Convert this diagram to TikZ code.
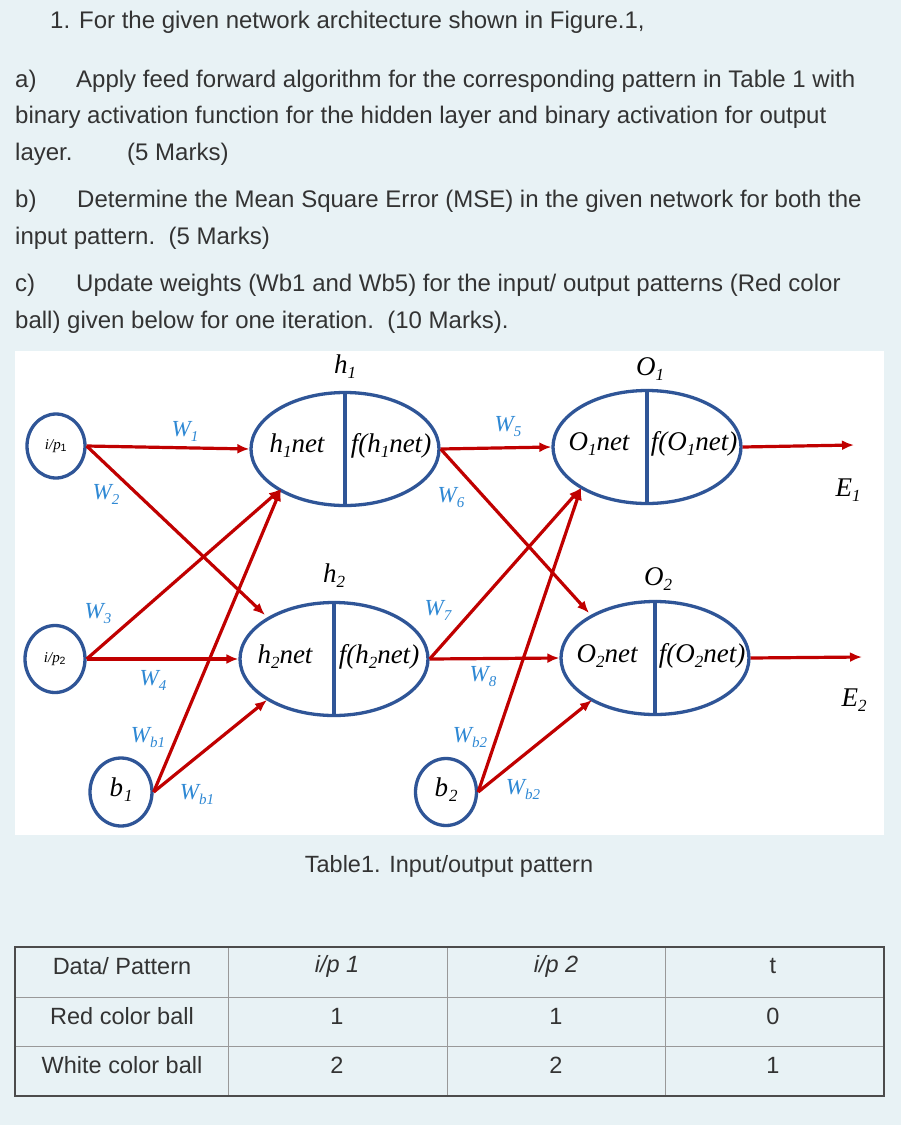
\documentclass[tikz,border=0pt]{standalone}
\usepackage{fontspec}
\setmainfont{Liberation Sans}
\newfontfamily\tms{Liberation Serif}
\usetikzlibrary{arrows.meta,shapes.geometric}
\definecolor{bgc}{HTML}{E8F2F5}
\definecolor{red1}{HTML}{C00000}
\definecolor{nblue}{HTML}{2F5597}
\definecolor{wblue}{HTML}{2E88D4}
\definecolor{txt}{HTML}{333333}
\newcommand{\mysub}[1]{\raisebox{-5pt}{\fontsize{17}{17}\selectfont #1}}
\newcommand{\wsub}[1]{\raisebox{-5pt}{\fontsize{15}{15}\selectfont #1}}
\tikzset{
  txtl/.style={anchor=west,inner sep=0pt,text=txt,font=\fontsize{24}{28}\selectfont},
  neur/.style={draw=nblue,line width=3.3pt,ellipse,minimum width=188pt,minimum height=113pt,inner sep=0pt},
  inp/.style={draw=nblue,line width=3.3pt,ellipse,inner sep=0pt},
  con/.style={draw=red1,line width=3.2pt,-{Latex[length=12pt,width=10pt]}},
  wl/.style={text=wblue,font=\tms\itshape\fontsize{23}{24}\selectfont,inner sep=0pt},
  ml/.style={font=\tms\itshape\fontsize{27}{28}\selectfont,inner sep=0pt},
  tb/.style={text=txt,font=\fontsize{23.5}{26}\selectfont,inner sep=0pt}
}
\begin{document}
\begin{tikzpicture}[x=1pt,y=-1pt]
\fill[bgc] (0,0) rectangle (901,1125);
\useasboundingbox (0,0) rectangle (901,1125);
\fill[white] (15,351) rectangle (884,835);
% question text
\node[txtl] (t1) at (50,22) {1. For the given network architecture shown in Figure.1,};
\node[txtl] (t2a) at (15,81) {a)};
\node[txtl] (t2) at (76,81) {Apply feed forward algorithm for the corresponding pattern in Table 1 with};
\node[txtl] (t3) at (15,117) {binary activation function for the hidden layer and binary activation for output};
\node[txtl] (t4) at (15,154) {layer.};
\node[txtl] (t4b) at (127,154) {(5 Marks)};
\node[txtl] (t5a) at (15,201) {b)};
\node[txtl] (t5) at (77,201) {Determine the Mean Square Error (MSE) in the given network for both the};
\node[txtl] (t6) at (15,238) {input pattern.\ \ (5 Marks)};
\node[txtl] (t7a) at (15,285) {c)};
\node[txtl] (t7) at (76,285) {Update weights (Wb1 and Wb5) for the input/ output patterns (Red color};
\node[txtl] (t8) at (15,322) {ball) given below for one iteration.\ \ (10 Marks).};
% nodes
\node[inp,minimum width=58pt,minimum height=64pt] (ip1) at (56,446) {\tms\itshape\fontsize{15}{15}\selectfont i/p$_{\mathrm{1}}$};
\node[inp,minimum width=60pt,minimum height=67pt] (ip2) at (55,659) {\tms\itshape\fontsize{15}{15}\selectfont i/p$_{\mathrm{2}}$};
\node[inp,minimum width=62pt,minimum height=68pt] (b1) at (121,792) {};
\node[ml] (b1t) at (121,790) {b\kern1pt\mysub{1}};
\node[inp,minimum width=61pt,minimum height=67pt] (b2) at (446,792) {};
\node[ml] (b2t) at (446,790) {b\kern1pt\mysub{2}};
\node[neur] (h1) at (345,449) {};
\node[neur] (h2) at (334,659) {};
\node[neur] (o1) at (647,447) {};
\node[neur] (o2) at (655,658) {};
\draw[nblue,line width=3.3pt] (h1.north) -- (h1.south);
\draw[nblue,line width=3.3pt] (h2.north) -- (h2.south);
\draw[nblue,line width=3.3pt] (o1.north) -- (o1.south);
\draw[nblue,line width=3.3pt] (o2.north) -- (o2.south);
\node[ml] (h1a) at (297,446) {h\mysub{1}net};
\node[ml] (h1b) at (391,446) {f(h\mysub{1}net)};
\node[ml] (h2a) at (285,657) {h\mysub{2}net};
\node[ml] (h2b) at (379,657) {f(h\mysub{2}net)};
\node[ml] (o1a) at (599,444) {O\mysub{1}net};
\node[ml] (o1b) at (694,444) {f(O\mysub{1}net)};
\node[ml] (o2a) at (607,656) {O\mysub{2}net};
\node[ml] (o2b) at (702,656) {f(O\mysub{2}net)};
\node[ml] (lh1) at (345,367) {h\mysub{1}};
\node[ml] (lh2) at (334,576) {h\mysub{2}};
\node[ml] (lo1) at (650,369) {O\mysub{1}};
\node[ml] (lo2) at (658,579) {O\mysub{2}};
\coordinate (e1) at (854,445);
\coordinate (e2) at (862,657);
\node[ml] (le1) at (848,490) {E\mysub{1}};
\node[ml] (le2) at (854,700) {E\mysub{2}};
% connectors
\draw[con] (ip1.east) -- (h1.west);
\draw[con] (ip1.east) -- (265,615);
\draw[con] (ip2.east) -- (281,489);
\draw[con] (ip2.east) -- (h2.west);
\draw[con] (b1.east) -- (281,489);
\draw[con] (b1.east) -- (267,700);
\draw[con] (h1.east) -- (o1.west);
\draw[con] (h1.east) -- (589,613);
\draw[con] (h2.east) -- (581,488);
\draw[con] (h2.east) -- (o2.west);
\draw[con] (b2.east) -- (581,488);
\draw[con] (b2.east) -- (592,700);
\draw[con] (o1.east) -- (e1);
\draw[con] (o2.east) -- (e2);
% weight labels
\node[wl] (w1) at (185,431) {W\wsub{1}};
\node[wl] (w2) at (106,494) {W\wsub{2}};
\node[wl] (w3) at (98,614) {W\wsub{3}};
\node[wl] (w4) at (153,680) {W\wsub{4}};
\node[wl] (wb1a) at (148,738) {W\wsub{b1}};
\node[wl] (wb1b) at (197,795) {W\wsub{b1}};
\node[wl] (w5) at (508,427) {W\wsub{5}};
\node[wl] (w6) at (451,498) {W\wsub{6}};
\node[wl] (w7) at (438,610) {W\wsub{7}};
\node[wl] (w8) at (483,677) {W\wsub{8}};
\node[wl] (wb2a) at (470,738) {W\wsub{b2}};
\node[wl] (wb2b) at (523,790) {W\wsub{b2}};
% caption
\node[tb] (cap) at (449,866) {Table1. Input/output pattern};
% table
\draw[gray!80,line width=1pt] (15,947) rectangle (884,1096);
\foreach \yy in {997,1046} \draw[gray!80,line width=1pt] (15,\yy) -- (884,\yy);
\foreach \xx in {228,447,665} \draw[gray!80,line width=1pt] (\xx,947) -- (\xx,1096);
\draw[gray!60!black,line width=1.2pt] (15,947) rectangle (884,1096);
\node[tb] (c11) at (122,966) {Data/ Pattern};
\node[tb,font=\itshape\fontsize{23.5}{26}\selectfont] (c12) at (337,966) {i/p 1};
\node[tb,font=\itshape\fontsize{23.5}{26}\selectfont] (c13) at (556,966) {i/p 2};
\node[tb] (c14) at (773,966) {t};
\node[tb] (c21) at (122,1016) {Red color ball};
\node[tb] (c22) at (337,1016) {1};
\node[tb] (c23) at (556,1016) {1};
\node[tb] (c24) at (773,1016) {0};
\node[tb] (c31) at (122,1065) {White color ball};
\node[tb] (c32) at (337,1065) {2};
\node[tb] (c33) at (556,1065) {2};
\node[tb] (c34) at (773,1065) {1};
\end{tikzpicture}
\end{document}
